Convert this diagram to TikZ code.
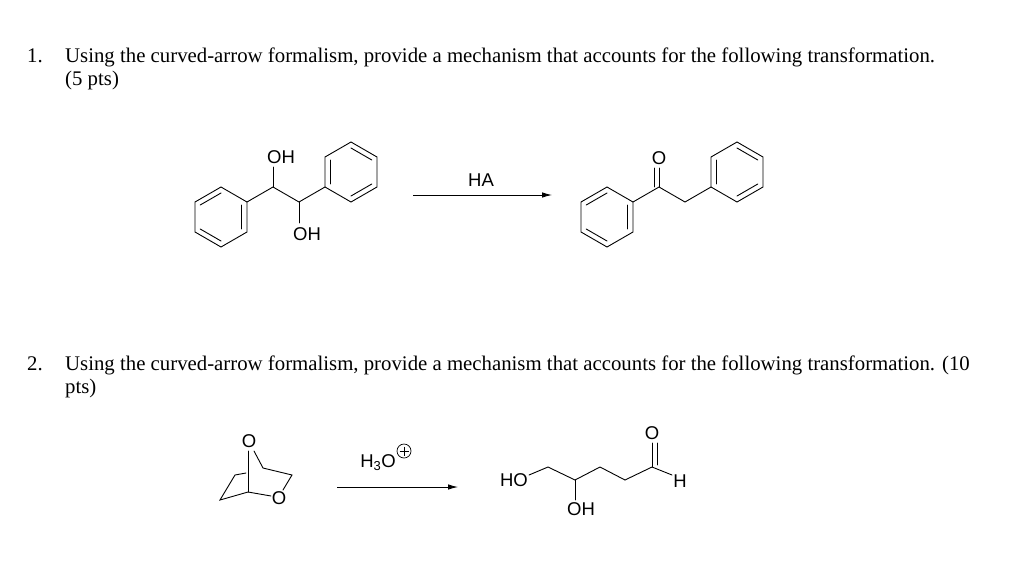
\documentclass[tikz,border=0pt]{standalone}
\usepackage{fontspec}
\setmainfont{Liberation Serif}
\newfontfamily\chem{Liberation Sans}
\usetikzlibrary{arrows.meta}
\begin{document}
\begin{tikzpicture}[x=1pt,y=-1pt,
  bond/.style={line width=0.9pt,line cap=round},
  lbl/.style={font=\chem\fontsize{18.5}{18.5}\selectfont,inner sep=0pt},
  q/.style={font=\fontsize{20.8}{24}\selectfont,inner sep=0pt,anchor=base west},
  rxn/.style={line width=0.9pt,-{Latex[length=10pt,width=5.5pt]}}]
\useasboundingbox (0,0) rectangle (1024,560);
\fill[white] (0,0) rectangle (1024,560);
\newcommand\ring[3]{%
  \draw[bond] (#1,#2) +(90:30) -- +(30:30) -- +(-30:30) -- +(-90:30) -- +(-150:30) -- +(150:30) -- cycle;
  \foreach \a in {#3}{\draw[bond] (#1,#2) +({-\a}:24) -- +({-\a+60}:24);}}
% Question texts
\node[q] (n1) at (27,62) {1.};
\node[q] (t1) at (65,62) {Using the curved-arrow formalism, provide a mechanism that accounts for the following transformation.};
\node[q] (t1b) at (65,85) {(5 pts)};
\node[q] (n2) at (27,370) {2.};
\node[q] (t2) at (65,370) {Using the curved-arrow formalism, provide a mechanism that accounts for the following transformation. (10};
\node[q] (t2b) at (65,393) {pts)};
% Reaction 1 reactant
\ring{221}{217}{-90,30,150}
\ring{351}{172}{-150,-30,90}
\coordinate (c1) at (273,187); \coordinate (c2) at (299,202);
\node[lbl] (oh1) at (281,157) {OH};
\node[lbl] (oh2) at (307,234) {OH};
\draw[bond] (247,202) -- (c1) -- (c2) -- (325,187);
\draw[bond] (c1) -- (273,167);
\draw[bond] (c2) -- (299,223);
% arrow 1
\coordinate (a1s) at (413,195); \coordinate (a1e) at (552,195);
\draw[rxn] (a1s) -- (a1e);
\node[lbl] (ha) at (481,180) {HA};
% Product 1
\ring{607}{217}{-90,30,150}
\ring{737}{172}{-150,-30,90}
\coordinate (k) at (659,187);
\node[lbl] (o1) at (659,158) {O};
\draw[bond] (633,202) -- (k) -- (685,202) -- (711,187);
\draw[bond] (k) -- (659,168);
\draw[bond] (654,187) -- (654,168);
% Reaction 2 reactant
\node[lbl] (ob) at (249,441) {O};
\node[lbl] (or) at (279,498) {O};
\coordinate (bh1) at (248,492); \coordinate (bh2) at (263,468);
\draw[bond] (248,451) -- (bh1);
\draw[bond] (254,451) -- (bh2) -- (292,475) -- (283,490);
\draw[bond] (271,496) -- (bh1) -- (220,500) -- (235,475) -- (246,473);
% arrow 2
\draw[rxn] (337,487) -- (458,487);
\node[lbl] (h3o) at (378,463) {H\textsubscript{3}O};
\draw[line width=0.7pt] (404,451) circle (7);
\draw[line width=0.7pt] (399.5,451) -- (408.5,451) (404,446.5) -- (404,455.5);
% Product 2
\node[lbl] (ho) at (514,480) {HO};
\node[lbl] (oh3) at (581,509) {OH};
\node[lbl] (o2) at (652,433) {O};
\node[lbl] (h) at (680,481) {H};
\draw[bond] (529,475) -- (548,467) -- (575,480) -- (600,467) -- (625,480) -- (652,467) -- (672,475);
\draw[bond] (575,480) -- (575,500);
\draw[bond] (652,467) -- (652,443);
\draw[bond] (657,465) -- (657,443);
\end{tikzpicture}
\end{document}
